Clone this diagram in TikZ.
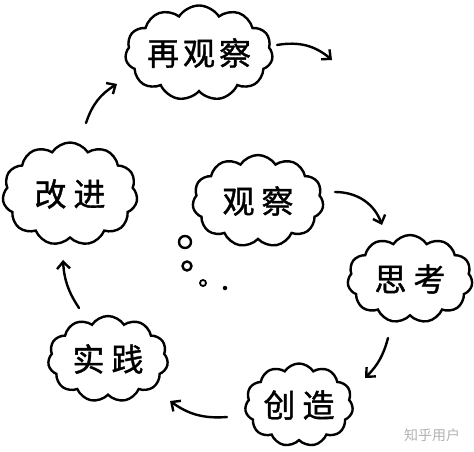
\documentclass[tikz,border=0pt]{standalone}
\usepackage{fontspec}
\newfontfamily\cjk[FakeBold=1.2]{Noto Sans CJK SC}
\newfontfamily\markfont{Noto Sans CJK SC}
\usetikzlibrary{shapes.symbols,arrows.meta}
\tikzset{
  bubble/.style={cloud,draw,cloud puffs=11,cloud puff arc=115,cloud ignores aspect,
    inner sep=0pt,font=\cjk\fontsize{32}{32}\selectfont},
  arr/.style={-{Straight Barb[length=7pt,width=13pt]},line cap=round}
}
\begin{document}
\begin{tikzpicture}[x=1pt,y=1pt,line width=2.4pt]
\useasboundingbox (0,0) rectangle (474,451);
\begin{scope}[every node/.style={bubble}]
\node[minimum width=130pt,minimum height=95pt] (reobserve) at (199,398) {再\hspace{4pt}观\hspace{4pt}察};
\node[minimum width=131pt,minimum height=92pt] (observe) at (258,250) {观\hspace{7pt}察};
\node[minimum width=125pt,minimum height=88pt] (think) at (410,172) {思\hspace{7pt}考};
\node[minimum width=108pt,minimum height=83pt] (create) at (299,46) {创\hspace{7pt}造};
\node[minimum width=120pt,minimum height=86pt] (practice) at (108,92) {实\hspace{7pt}践};
\node[minimum width=135pt,minimum height=103pt] (improve) at (70,257) {改\hspace{7pt}进};
\end{scope}
% arrow ends
\coordinate (s1) at (86,328);  \coordinate (e1) at (117,367);
\coordinate (s2) at (277,406); \coordinate (e2) at (332,391);
\coordinate (s3) at (335,259); \coordinate (e3) at (382,226);
\coordinate (s4) at (388,113); \coordinate (e4) at (365,73);
\coordinate (s5) at (227,34);  \coordinate (e5) at (170,50);
\coordinate (s6) at (79,143);  \coordinate (e6) at (63,191);
\foreach \k/\b in {1/20,2/25,3/35,4/15,5/20,6/15}
  \draw[arr] (s\k) to[bend left=\b] (e\k);
% thought bubbles
\node[circle,draw,minimum size=12pt,inner sep=0pt] (t1) at (185,209) {};
\node[circle,draw,minimum size=9pt,inner sep=0pt] (t2) at (187,185) {};
\node[circle,draw,line width=1.8pt,minimum size=6pt,inner sep=0pt] (t3) at (203,168) {};
\node[circle,fill,minimum size=4.5pt,inner sep=0pt] (t4) at (225,163) {};
% watermark
\node[text=black!30,font=\markfont\fontsize{14}{14}\selectfont] (mark) at (432,16) {知乎用户};
\end{tikzpicture}
\end{document}
